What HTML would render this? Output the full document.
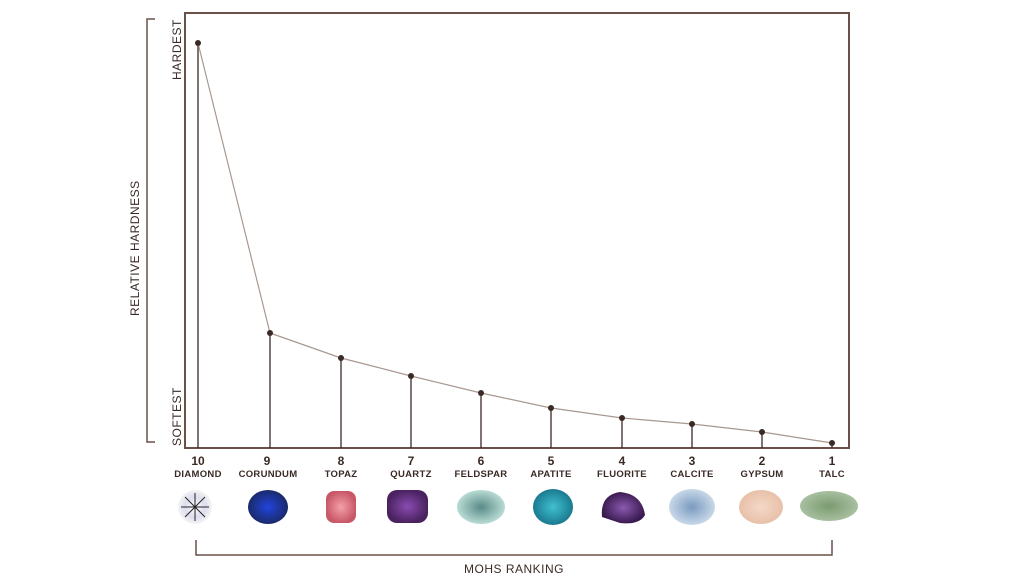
<!DOCTYPE html>
<html><head><style>body{margin:0;background:#fff}svg{display:block}text{font-family:"Liberation Sans",sans-serif;fill:#3a2a25}</style></head><body>
<svg width="1024" height="585" viewBox="0 0 1024 585">
<defs>
<radialGradient id="dia"><stop offset="0" stop-color="#fff"/><stop offset="0.6" stop-color="#dde"/><stop offset="1" stop-color="#f4f4f4"/></radialGradient>
<radialGradient id="sap"><stop offset="0" stop-color="#2244dd"/><stop offset="1" stop-color="#1a2a6a"/></radialGradient>
<radialGradient id="top"><stop offset="0" stop-color="#f4a0a8"/><stop offset="1" stop-color="#c85868"/></radialGradient>
<radialGradient id="qua"><stop offset="0" stop-color="#8a4cb0"/><stop offset="1" stop-color="#4a2260"/></radialGradient>
<radialGradient id="fel"><stop offset="0" stop-color="#5a8a88"/><stop offset="1" stop-color="#b8dcd4"/></radialGradient>
<radialGradient id="apa"><stop offset="0" stop-color="#40c0d0"/><stop offset="1" stop-color="#1a7a90"/></radialGradient>
<radialGradient id="flu"><stop offset="0" stop-color="#8a5ab0"/><stop offset="1" stop-color="#3a1a50"/></radialGradient>
<radialGradient id="cal"><stop offset="0" stop-color="#7a9ac0"/><stop offset="1" stop-color="#c8d8e8"/></radialGradient>
<radialGradient id="gyp"><stop offset="0" stop-color="#f4d8c8"/><stop offset="1" stop-color="#e8c0a8"/></radialGradient>
<radialGradient id="tal"><stop offset="0" stop-color="#7a9a70"/><stop offset="1" stop-color="#a8c0a0"/></radialGradient>
</defs>
<rect x="185" y="13" width="664" height="435" fill="none" stroke="#6b5048" stroke-width="2"/>
<path d="M155 19H147V442H155" fill="none" stroke="#6b5048" stroke-width="1.5"/>
<path d="M196 540V555H832V540" fill="none" stroke="#6b5048" stroke-width="1.5"/>
<g stroke="#3a2a25" stroke-width="1.3">
<line x1="198" y1="43" x2="198" y2="448"/><line x1="270" y1="333" x2="270" y2="448"/><line x1="341" y1="358" x2="341" y2="448"/><line x1="411" y1="376" x2="411" y2="448"/><line x1="481" y1="393" x2="481" y2="448"/><line x1="551" y1="408" x2="551" y2="448"/><line x1="622" y1="418" x2="622" y2="448"/><line x1="692" y1="424" x2="692" y2="448"/><line x1="762" y1="432" x2="762" y2="448"/><line x1="832" y1="443" x2="832" y2="448"/>
</g>
<polyline points="198,43 270,333 341,358 411,376 481,393 551,408 622,418 692,424 762,432 832,443" fill="none" stroke="#a89890" stroke-width="1.2"/>
<g fill="#3a2a25"><circle cx="198" cy="43" r="3"/><circle cx="270" cy="333" r="3"/><circle cx="341" cy="358" r="3"/><circle cx="411" cy="376" r="3"/><circle cx="481" cy="393" r="3"/><circle cx="551" cy="408" r="3"/><circle cx="622" cy="418" r="3"/><circle cx="692" cy="424" r="3"/><circle cx="762" cy="432" r="3"/><circle cx="832" cy="443" r="3"/></g>
<text transform="translate(181,80) rotate(-90)" font-size="12" letter-spacing="0.5">HARDEST</text>
<text transform="translate(181,446) rotate(-90)" font-size="12" letter-spacing="0.5">SOFTEST</text>
<text transform="translate(139,316) rotate(-90)" font-size="12" letter-spacing="0.5">RELATIVE HARDNESS</text>
<g font-size="12" text-anchor="middle" font-weight="bold">
<text x="198" y="465">10</text><text x="267" y="465">9</text><text x="341" y="465">8</text><text x="411" y="465">7</text><text x="481" y="465">6</text><text x="551" y="465">5</text><text x="622" y="465">4</text><text x="692" y="465">3</text><text x="762" y="465">2</text><text x="832" y="465">1</text>
</g>
<g font-size="9.5" text-anchor="middle" font-weight="bold" letter-spacing="0.3">
<text x="198" y="477">DIAMOND</text><text x="268" y="477">CORUNDUM</text><text x="341" y="477">TOPAZ</text><text x="411" y="477">QUARTZ</text><text x="481" y="477">FELDSPAR</text><text x="551" y="477">APATITE</text><text x="622" y="477">FLUORITE</text><text x="692" y="477">CALCITE</text><text x="762" y="477">GYPSUM</text><text x="832" y="477">TALC</text>
</g>
<ellipse cx="195" cy="507" rx="17" ry="17" fill="url(#dia)"/>
<g stroke="#222" stroke-width="1"><line x1="181" y1="507" x2="209" y2="507"/><line x1="195" y1="493" x2="195" y2="521"/><line x1="185" y1="497" x2="205" y2="517"/><line x1="205" y1="497" x2="185" y2="517"/></g>
<ellipse cx="268" cy="507" rx="20" ry="17" fill="url(#sap)"/>
<rect x="326" y="491" width="30" height="32" rx="8" fill="url(#top)"/>
<rect x="387" y="490" width="41" height="33" rx="10" fill="url(#qua)"/>
<ellipse cx="481" cy="507" rx="24" ry="17" fill="url(#fel)"/>
<ellipse cx="553" cy="507" rx="20" ry="18" fill="url(#apa)"/>
<path d="M602 517Q600 495 620 492Q642 494 645 515Q640 525 620 523Z" fill="url(#flu)"/>
<ellipse cx="692" cy="507" rx="23" ry="18" fill="url(#cal)"/>
<ellipse cx="761" cy="507" rx="22" ry="17" fill="url(#gyp)"/>
<ellipse cx="829" cy="506" rx="29" ry="15" fill="url(#tal)"/>
<text x="514" y="573" font-size="12" text-anchor="middle" letter-spacing="0.5">MOHS RANKING</text>
</svg>
</body></html>
